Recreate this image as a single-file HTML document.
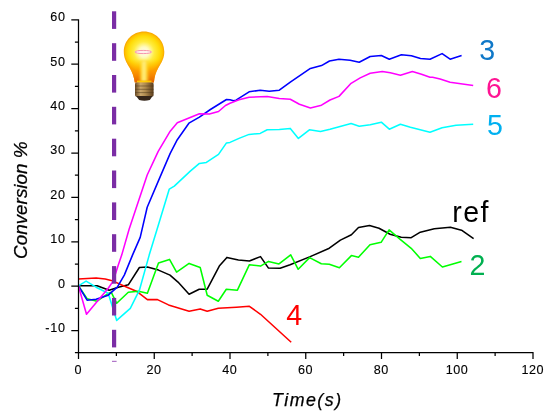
<!DOCTYPE html>
<html><head><meta charset="utf-8"><title>Conversion vs Time</title>
<style>
html,body{margin:0;padding:0;background:#fff;}
body{width:550px;height:418px;overflow:hidden;}
svg{display:block;}
</style></head><body>
<svg width="550" height="418" viewBox="0 0 550 418">
<defs>
<radialGradient id="gl" cx="144" cy="52" r="20.6" gradientUnits="userSpaceOnUse">
<stop offset="0" stop-color="#fffff4"/><stop offset="0.25" stop-color="#fffac0"/><stop offset="0.5" stop-color="#ffec40"/><stop offset="0.76" stop-color="#ffdc08"/><stop offset="0.9" stop-color="#ffc400"/><stop offset="1" stop-color="#f6a000"/>
</radialGradient>
<linearGradient id="nk" x1="0" y1="59" x2="0" y2="83" gradientUnits="userSpaceOnUse">
<stop offset="0" stop-color="#ffb000" stop-opacity="0"/><stop offset="0.5" stop-color="#ff9800" stop-opacity="0.8"/><stop offset="1" stop-color="#e45e00" stop-opacity="1"/>
</linearGradient>
<linearGradient id="st" x1="138.5" y1="0" x2="149.5" y2="0" gradientUnits="userSpaceOnUse">
<stop offset="0" stop-color="#ffd820" stop-opacity="0"/><stop offset="0.3" stop-color="#ffe040" stop-opacity="0.95"/><stop offset="0.5" stop-color="#fff090" stop-opacity="1"/><stop offset="0.7" stop-color="#ffe040" stop-opacity="0.95"/><stop offset="1" stop-color="#ffd820" stop-opacity="0"/>
</linearGradient>
<linearGradient id="bs" x1="135" y1="0" x2="153.6" y2="0" gradientUnits="userSpaceOnUse">
<stop offset="0" stop-color="#6a4a24"/><stop offset="0.3" stop-color="#c9a66c"/><stop offset="0.55" stop-color="#b08c50"/><stop offset="1" stop-color="#5a3c1c"/>
</linearGradient>
<filter id="b1" x="-30%" y="-30%" width="160%" height="160%"><feGaussianBlur stdDeviation="1"/></filter>
<filter id="b2" x="-30%" y="-100%" width="160%" height="300%"><feGaussianBlur stdDeviation="0.35"/></filter>
</defs>
<rect width="550" height="418" fill="#ffffff"/>
<g id="bulb">
<path d="M144 31.6 C155.3 31.6 164.3 40.6 164.3 51.8 C164.3 58 162 62 158.5 67.5 C155.5 72.5 154.5 77 153.9 82.6 L134.8 82.6 C134 77 132.5 72.5 129.5 67.5 C126 62 123.8 58 123.8 51.8 C123.8 40.6 132.7 31.6 144 31.6 Z" fill="url(#gl)"/>
<path d="M144 31.6 C155.3 31.6 164.3 40.6 164.3 51.8 C164.3 58 162 62 158.5 67.5 C155.5 72.5 154.5 77 153.9 82.6 L134.8 82.6 C134 77 132.5 72.5 129.5 67.5 C126 62 123.8 58 123.8 51.8 C123.8 40.6 132.7 31.6 144 31.6 Z" fill="url(#nk)"/>
<path d="M140.5 61 L139 81.6 H149.5 L148 61 Z" fill="url(#st)" filter="url(#b1)"/>
<rect x="137" y="80.6" width="14.5" height="2" fill="#ffd400" opacity="0.85"/>
<ellipse cx="143.3" cy="52" rx="8.4" ry="1.6" fill="#fff0ec" stroke="#f590aa" stroke-width="0.95" filter="url(#b2)"/>
<rect x="135" y="82.6" width="18.6" height="14" rx="1.5" fill="url(#bs)"/>
<path d="M135 86 H153.6 M135 89.3 H153.6 M135 92.6 H153.6" stroke="#4a3418" stroke-width="0.9" opacity="0.55"/>
<path d="M136 96 H152.6 L149.8 100 Q144.3 101.6 139.2 100 Z" fill="#35261a"/>
</g>
<polyline points="78.4,285.8 97.1,285.8 109.2,290.2 118.3,287.2 128.3,284.8 139.4,267.5 147.4,267.1 158.5,270.1 170.0,275.1 178.0,282.1 189.1,294.2 199.2,289.2 207.2,289.2 219.3,266.1 226.9,257.4 238.4,260.0 249.4,261.0 260.5,256.6 268.5,268.1 280.1,268.3 290.1,264.7 310.2,256.6 329.3,248.2 340.4,240.1 351.4,234.7 358.5,227.5 369.5,225.5 379.0,228.2 390.1,234.2 401.2,237.3 411.2,237.7 420.3,232.2 434.3,228.8 450.4,227.2 461.5,230.2 473.6,238.7" fill="none" stroke="#000000" stroke-width="1.55" stroke-linejoin="round"/>
<polyline points="78.4,279.1 96.1,277.9 105.2,279.1 113.2,281.1 122.3,285.2 136.4,291.2 147.4,299.6 157.5,299.6 168.5,304.9 189.1,311.3 200.2,308.9 207.2,311.3 218.3,308.3 236.4,307.3 249.4,306.3 260.5,314.3 291.2,342.3" fill="none" stroke="#ff0000" stroke-width="1.55" stroke-linejoin="round"/>
<polyline points="78.4,285.8 87.1,298.8 97.1,301.2 107.2,294.2 111.2,292.2 116.7,303.3 128.3,292.2 138.4,291.2 147.4,293.2 158.5,263.0 169.5,259.4 176.6,272.1 189.1,263.4 200.2,267.5 207.2,295.2 218.3,301.2 226.3,289.2 237.4,290.2 249.4,264.7 260.5,266.1 268.5,261.4 279.0,263.9 290.7,254.8 298.2,269.3 309.6,257.6 321.3,263.7 329.3,264.3 339.4,267.7 351.4,255.6 358.5,257.2 370.0,244.7 381.1,242.3 389.1,229.8 400.2,239.3 411.2,248.3 420.3,258.4 430.3,256.4 442.4,267.0 461.5,261.4" fill="none" stroke="#00ff00" stroke-width="1.55" stroke-linejoin="round"/>
<polyline points="78.4,285.8 86.1,281.1 96.1,287.2 108.2,293.2 116.7,320.4 130.3,308.3 139.4,290.2 149.2,255.1 158.3,225.3 169.3,189.1 174.3,186.1 190.3,171.1 199.4,163.4 206.4,162.4 218.5,154.4 226.5,142.9 230.0,142.4 239.0,138.4 249.1,134.4 260.2,133.4 267.2,129.8 279.3,129.4 290.3,128.4 298.4,138.4 309.4,129.8 320.5,131.4 330.0,129.2 351.1,123.6 359.2,126.2 370.2,124.8 381.3,122.2 389.3,129.2 400.4,124.2 410.4,127.2 430.0,132.2 442.1,127.8 456.1,125.2 473.2,124.2" fill="none" stroke="#00ffff" stroke-width="1.55" stroke-linejoin="round"/>
<polyline points="78.4,285.8 87.1,300.2 96.1,299.2 108.2,295.2 117.3,287.2 124.3,275.1 132.5,255.1 140.2,237.4 147.2,207.2 158.3,181.1 170.2,153.4 177.3,139.7 188.9,123.2 199.4,117.2 210.4,109.5 226.5,99.5 230.0,99.8 233.6,100.7 236.0,100.2 249.1,91.8 260.2,90.2 269.2,91.2 279.3,90.2 290.3,82.1 310.4,68.4 321.5,65.6 329.5,61.0 339.0,59.2 350.1,60.2 359.2,62.2 370.2,56.5 381.3,55.5 389.3,59.2 401.4,54.7 411.4,55.7 420.5,58.6 430.0,59.2 442.1,53.6 450.1,59.2 461.6,55.6" fill="none" stroke="#0000ff" stroke-width="1.55" stroke-linejoin="round"/>
<polyline points="78.4,285.8 86.5,314.3 108.2,288.2 113.2,281.1 118.3,265.1 121.7,255.1 129.1,229.3 136.1,208.2 147.2,175.0 158.2,151.3 170.2,131.2 177.3,122.8 199.4,113.7 209.4,114.1 218.5,111.5 225.5,105.5 230.0,103.2 239.0,99.8 249.1,97.2 267.2,96.6 279.3,98.6 290.3,99.2 299.4,104.2 310.4,107.9 321.5,105.2 330.0,100.0 339.0,96.4 351.1,83.3 360.2,77.9 370.2,73.2 382.3,71.6 390.3,72.8 400.4,75.2 412.4,71.6 421.5,74.2 430.0,77.3 432.6,77.3 440.1,78.9 450.1,82.3 473.2,85.4" fill="none" stroke="#ff00ff" stroke-width="1.55" stroke-linejoin="round"/>
<rect x="112" y="11.3" width="4.2" height="17.6" fill="#7b2da5"/>
<rect x="112" y="43.2" width="4.2" height="17.6" fill="#7b2da5"/>
<rect x="112" y="75.0" width="4.2" height="17.6" fill="#7b2da5"/>
<rect x="112" y="106.8" width="4.2" height="17.6" fill="#7b2da5"/>
<rect x="112" y="138.7" width="4.2" height="17.6" fill="#7b2da5"/>
<rect x="112" y="170.5" width="4.2" height="17.6" fill="#7b2da5"/>
<rect x="112" y="202.4" width="4.2" height="17.6" fill="#7b2da5"/>
<rect x="112" y="234.2" width="4.2" height="17.6" fill="#7b2da5"/>
<rect x="112" y="266.1" width="4.2" height="17.6" fill="#7b2da5"/>
<rect x="112" y="297.9" width="4.2" height="17.6" fill="#7b2da5"/>
<rect x="112" y="329.8" width="4.2" height="17.6" fill="#7b2da5"/>
<rect x="112" y="360.8" width="4.6" height="1.1" fill="#a868c4"/>
<path d="M78.5 19.3 V352.5 M74.9 352.5 H533.6 M71.3 330.60 H78.5 M74.9 308.40 H78.5 M71.3 286.20 H78.5 M74.9 264.00 H78.5 M71.3 241.80 H78.5 M74.9 219.60 H78.5 M71.3 197.40 H78.5 M74.9 175.20 H78.5 M71.3 153.00 H78.5 M74.9 130.80 H78.5 M71.3 108.60 H78.5 M74.9 86.40 H78.5 M71.3 64.20 H78.5 M74.9 42.00 H78.5 M71.3 19.80 H78.5 M78.50 352.5 V359.1 M116.38 352.5 V356.1 M154.25 352.5 V359.1 M192.12 352.5 V356.1 M230.00 352.5 V359.1 M267.88 352.5 V356.1 M305.75 352.5 V359.1 M343.62 352.5 V356.1 M381.50 352.5 V359.1 M419.38 352.5 V356.1 M457.25 352.5 V359.1 M495.12 352.5 V356.1 M533.00 352.5 V359.1" stroke="#000" stroke-width="1.25" fill="none"/>
<g font-family="'Liberation Sans', Arial, sans-serif" font-size="12.6" letter-spacing="0.5" fill="#000" stroke="#000" stroke-width="0.12"><text x="65.8" y="331.9" text-anchor="end" letter-spacing="0.8">-10</text><text x="65.8" y="287.5" text-anchor="end" letter-spacing="0.8">0</text><text x="65.8" y="243.1" text-anchor="end" letter-spacing="0.8">10</text><text x="65.8" y="198.7" text-anchor="end" letter-spacing="0.8">20</text><text x="65.8" y="154.3" text-anchor="end" letter-spacing="0.8">30</text><text x="65.8" y="109.9" text-anchor="end" letter-spacing="0.8">40</text><text x="65.8" y="65.5" text-anchor="end" letter-spacing="0.8">50</text><text x="65.8" y="21.1" text-anchor="end" letter-spacing="0.8">60</text><text x="78.3" y="373.8" text-anchor="middle">0</text><text x="154.1" y="373.8" text-anchor="middle">20</text><text x="229.8" y="373.8" text-anchor="middle">40</text><text x="305.6" y="373.8" text-anchor="middle">60</text><text x="381.3" y="373.8" text-anchor="middle">80</text><text x="457.1" y="373.8" text-anchor="middle">100</text><text x="532.8" y="373.8" text-anchor="middle">120</text></g>
<text x="307.3" y="406.2" text-anchor="middle" font-family="'Liberation Sans', Arial, sans-serif" font-style="italic" font-size="17.8" letter-spacing="1.5" fill="#000" stroke="#000" stroke-width="0.25">Time(s)</text>
<text transform="translate(26.5 200.2) rotate(-90)" text-anchor="middle" font-family="'Liberation Sans', Arial, sans-serif" font-style="italic" font-size="18.9" letter-spacing="0" fill="#000" stroke="#000" stroke-width="0.25">Conversion %</text>
<text x="479.3" y="60.2" font-family="'Liberation Sans', Arial, sans-serif" font-size="28.6" fill="#0f78c8">3</text>
<text x="485.9" y="98" font-family="'Liberation Sans', Arial, sans-serif" font-size="28.6" fill="#ff1493">6</text>
<text x="486.9" y="135.2" font-family="'Liberation Sans', Arial, sans-serif" font-size="28.6" fill="#00b0f0">5</text>
<text x="452.3" y="221.8" font-family="'Liberation Sans', Arial, sans-serif" font-size="28.6" letter-spacing="1.35" fill="#000">ref</text>
<text x="469.6" y="275" font-family="'Liberation Sans', Arial, sans-serif" font-size="28.6" fill="#00b050">2</text>
<text x="286.2" y="324.6" font-family="'Liberation Sans', Arial, sans-serif" font-size="28.6" fill="#ff0000">4</text>
</svg>
</body></html>
